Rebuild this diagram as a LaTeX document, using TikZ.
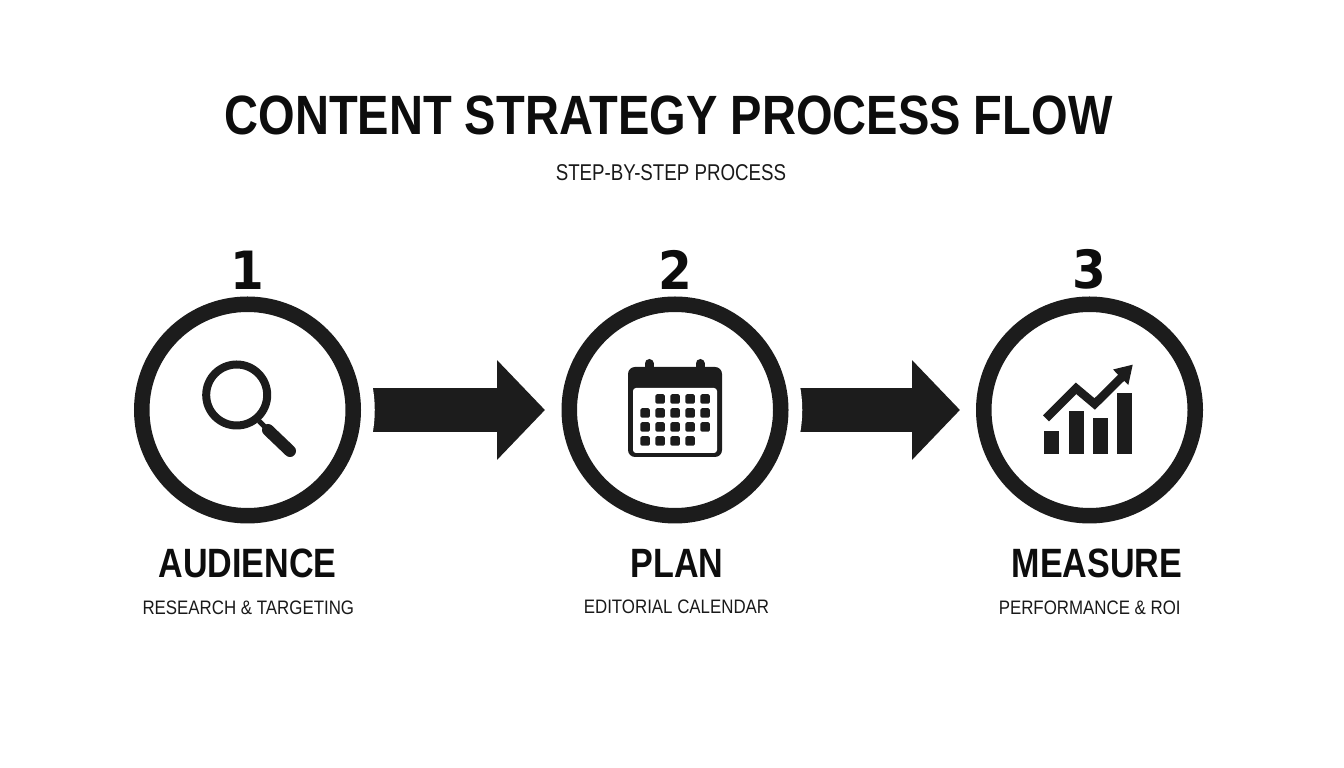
\documentclass[tikz,border=0pt]{standalone}
\usepackage{fontspec}
\setmainfont{Liberation Sans}
\newfontfamily\titlefont[FakeStretch=0.85]{Liberation Sans}
\newfontfamily\labelfont[FakeStretch=0.833]{Liberation Sans}
\newfontfamily\captionfont[FakeStretch=0.865]{Liberation Sans}
\newfontfamily\subtitlefont[FakeStretch=0.82]{Liberation Sans}
\newfontfamily\numfont[FakeStretch=0.92]{DejaVu Sans}
\usetikzlibrary{positioning, arrows.meta, backgrounds}

\definecolor{inkdark}{HTML}{1C1C1C}
\tikzset{
    stepcircle/.style={circle, draw=inkdark, line width=0.31cm, minimum size=4.23cm, inner sep=0pt,
        preaction={draw=white, line width=0.86cm}},
    stepnum/.style={inner sep=0pt, font=\numfont\fontsize{30}{30}\selectfont\bfseries, text=black!95},
    steptitle/.style={inner sep=0pt, font=\labelfont\fontsize{23.3}{24}\selectfont\bfseries, text=black!95},
    stepsub/.style={inner sep=0pt, font=\captionfont\fontsize{11.1}{12}\selectfont, text=black!90},
    flowarrow/.style={draw=inkdark, line width=0.88cm, -{Triangle[length=0.96cm, width=1.94cm, fill=inkdark]}},
    iconfill/.style={fill=inkdark, draw=none},
}

\begin{document}
\begin{tikzpicture}
    \useasboundingbox (0,0) rectangle (26.88,15.36);

    \node[inner sep=0pt, font=\titlefont\fontsize{31.5}{32}\selectfont\bfseries, text=black!95] at (13.37,13.06) (title) {CONTENT STRATEGY PROCESS FLOW};
    \node[inner sep=0pt, font=\subtitlefont\fontsize{13}{14}\selectfont, text=black!90, below=0.594cm of title, xshift=0.05cm] (subtitle) {STEP-BY-STEP PROCESS};

    \node[stepcircle] at (4.95,7.16) (audience) {};
    \node[stepcircle] at (13.5,7.16) (plan) {};
    \node[stepcircle] at (21.79,7.16) (measure) {};

    \node[stepnum, above=0.14cm of audience] (numone) {1};
    \node[stepnum, above=0.14cm of plan] (numtwo) {2};
    \node[stepnum, above=0.14cm of measure] (numthree) {3};

    \node[steptitle, below=0.5cm of audience] (audiencetitle) {AUDIENCE};
    \node[steptitle, below=0.5cm of plan, xshift=0.04cm] (plantitle) {PLAN};
    \node[steptitle, below=0.5cm of measure, xshift=0.15cm] (measuretitle) {MEASURE};

    \node[stepsub, below=0.446cm of audiencetitle, xshift=0.016cm] (audiencesub) {RESEARCH \& TARGETING};
    \node[stepsub, below=0.446cm of plantitle, xshift=-0.01cm] (plansub) {EDITORIAL CALENDAR};
    \node[stepsub, below=0.446cm of measuretitle, xshift=-0.146cm] (measuresub) {PERFORMANCE \& ROI};

    \begin{pgfonlayer}{background}
        \draw[flowarrow] ([xshift=0.2cm]audience.east) -- ([xshift=-0.33cm]plan.west);
        \draw[flowarrow] ([xshift=0.19cm]plan.east) -- ([xshift=-0.32cm]measure.west);
    \end{pgfonlayer}

    % magnifier
    \draw[inkdark, line width=0.16cm] (4.734,7.46) circle (0.61);
    \draw[inkdark, line width=0.1cm] (5.18,6.94) -- (5.36,6.76);
    \draw[inkdark, line width=0.24cm, line cap=round] (5.36,6.76) -- (5.8,6.34);

    % calendar
    \draw[inkdark, line width=0.18cm, line cap=round] (12.98,7.9) -- (12.98,8.09);
    \draw[inkdark, line width=0.18cm, line cap=round] (14.0,7.9) -- (14.0,8.09);
    \fill[iconfill, rounded corners=0.14cm] (12.56,6.22) rectangle (14.44,8.02);
    \fill[white, rounded corners=0.06cm] (12.66,6.3) rectangle (14.34,7.6);
    \foreach \y/\cols in {7.38/{13.2,13.5,13.8,14.1}, 7.1/{12.9,13.2,13.5,13.8,14.1}, 6.82/{12.9,13.2,13.5,13.8,14.1}, 6.54/{12.9,13.2,13.5,13.8}} {
        \foreach \x in \cols {
            \fill[iconfill, rounded corners=0.03cm] (\x-0.095,\y-0.095) rectangle (\x+0.095,\y+0.095);
        };
    };

    % chart
    \foreach \x/\top in {20.88/6.746, 21.374/7.14, 21.86/7.006, 22.346/7.5} {
        \fill[iconfill] (\x,6.28) rectangle (\x+0.3,\top);
    };
    \draw[inkdark, line width=0.17cm] (20.92,6.994) -- (21.52,7.594) -- (21.894,7.28) -- (22.44,7.82);
    \fill[iconfill] (22.654,8.066) -- (22.26,7.97) -- (22.566,7.66) -- cycle;
\end{tikzpicture}
\end{document}
